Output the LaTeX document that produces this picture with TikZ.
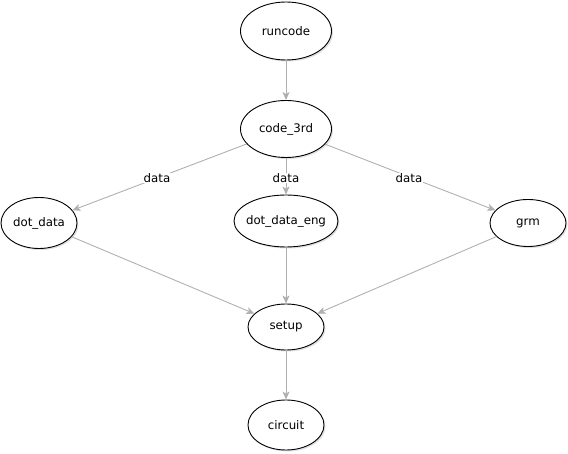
\documentclass[tikz,border=0pt]{standalone}
\usepackage{fontspec}
\setmainfont{DejaVu Sans}
\usetikzlibrary{arrows.meta,shapes.geometric,shadows}
\newcommand{\nodetext}[1]{\makebox[0pt]{#1}}
\tikzset{
  graphnode/.style={ellipse, draw=black, line width=0.9pt, fill=white, inner sep=0pt,
    font=\fontsize{11.8}{13}\selectfont,
    drop shadow={opacity=0.25, shadow xshift=1.5pt, shadow yshift=-1.5pt}},
  edgeline/.style={draw={rgb,255:red,176;green,176;blue,176}, line width=0.9pt,
    -{Stealth[length=8pt,width=7pt,inset=2pt]}},
  edgelabel/.style={font=\fontsize{11.8}{13}\selectfont, fill=white, inner sep=0.5pt}
}
\begin{document}
\begin{tikzpicture}[x=1pt,y=1pt]
\useasboundingbox (0,0) rectangle (568,-454);
\node[graphnode, minimum width=91pt, minimum height=58pt] (runcode) at (286,-31) {\nodetext{runcode}};
\node[graphnode, minimum width=91pt, minimum height=57pt] (code3rd) at (286,-129) {\nodetext{code\_3rd}};
\node[graphnode, minimum width=76pt, minimum height=51pt] (dotdata) at (39,-223) {\nodetext{dot\_data}};
\node[graphnode, minimum width=104pt, minimum height=52pt] (dotdataeng) at (286,-221) {\nodetext{dot\_data\_eng}};
\node[graphnode, minimum width=76pt, minimum height=47pt] (grm) at (528,-223) {\nodetext{grm}};
\node[graphnode, minimum width=76pt, minimum height=46pt] (setup) at (286,-327) {\nodetext{setup}};
\node[graphnode, minimum width=76pt, minimum height=50pt] (circuit) at (286,-425) {\nodetext{circuit}};

\draw[edgeline] (runcode) -- (code3rd);
\draw[edgeline] (code3rd) -- (dotdata);
\draw[edgeline] (code3rd) -- (dotdataeng);
\draw[edgeline] (code3rd) -- (grm);
\draw[edgeline] (dotdata) -- (setup);
\draw[edgeline] (dotdataeng) -- (setup);
\draw[edgeline] (grm) -- (setup);
\draw[edgeline] (setup) -- (circuit);

\node[edgelabel] (l1) at (157,-178) {data};
\node[edgelabel] (l2) at (286,-178) {data};
\node[edgelabel] (l3) at (409,-178) {data};
\end{tikzpicture}
\end{document}
